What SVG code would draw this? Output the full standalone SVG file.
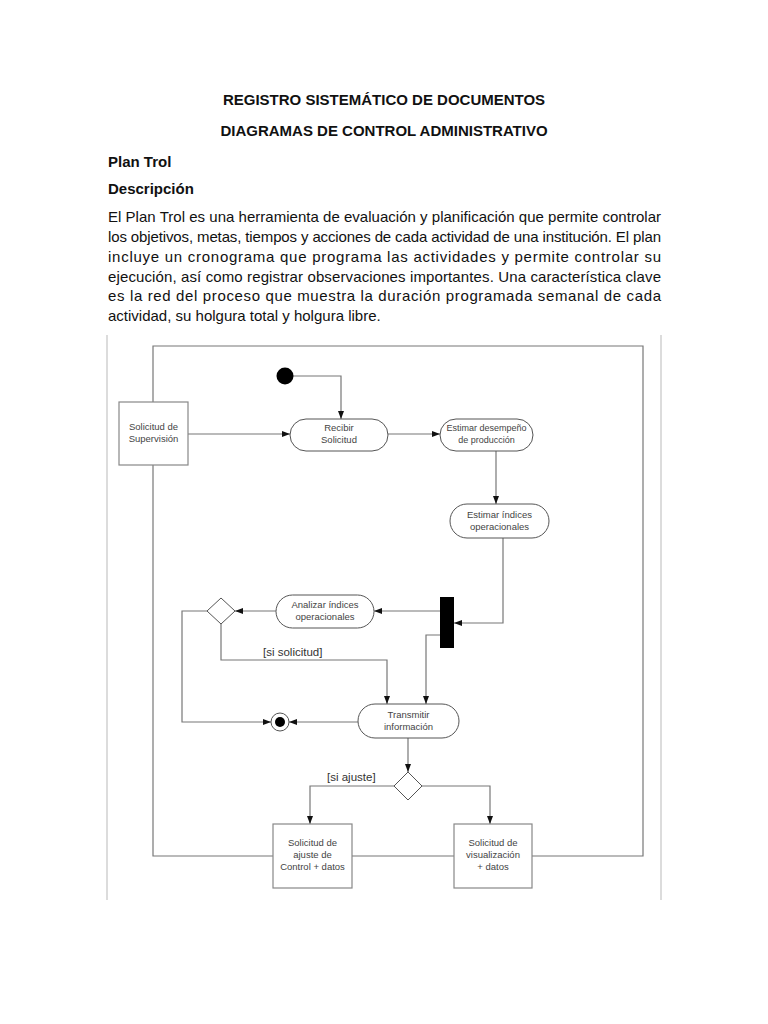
<svg xmlns="http://www.w3.org/2000/svg" width="768" height="1024" viewBox="0 0 768 1024">
<defs>
<marker id="arr" markerWidth="8" markerHeight="6" refX="8" refY="3" orient="auto" markerUnits="userSpaceOnUse"><path d="M0,0 L8,3 L0,6 z" fill="#111"/></marker>
<style>
.doc{font-family:"Liberation Sans",Arial,sans-serif;fill:#111;}
.h{font-size:15px;font-weight:bold;}
.p{font-size:15px;}
.n{font-family:"Liberation Sans",Arial,sans-serif;font-size:9.5px;fill:#444;text-anchor:middle;}
.lbl{font-family:"Liberation Sans",Arial,sans-serif;font-size:11.5px;fill:#333;}
.pill{fill:#fff;stroke:#555;stroke-width:1;}
.box{fill:#fff;stroke:#888;stroke-width:1.2;}
.c{fill:none;stroke:#777;stroke-width:1.2;}
.ca{fill:none;stroke:#777;stroke-width:1.2;marker-end:url(#arr);}
.frame{stroke:#d0d0d0;stroke-width:1.5;}
</style>
</defs>
<rect width="768" height="1024" fill="#fff"/>
<g id="header" class="doc">
<text class="h" x="384" y="105" text-anchor="middle">REGISTRO SISTEMÁTICO DE DOCUMENTOS</text>
<text class="h" x="384" y="136" text-anchor="middle">DIAGRAMAS DE CONTROL ADMINISTRATIVO</text>
<text class="h" x="108" y="167">Plan Trol</text>
<text class="h" x="108" y="194">Descripción</text>
<text class="p" x="108" y="222" textLength="553" lengthAdjust="spacing">El Plan Trol es una herramienta de evaluación y planificación que permite controlar</text>
<text class="p" x="108" y="242" textLength="553" lengthAdjust="spacing">los objetivos, metas, tiempos y acciones de cada actividad de una institución. El plan</text>
<text class="p" x="108" y="262" textLength="553" lengthAdjust="spacing">incluye un cronograma que programa las actividades y permite controlar su</text>
<text class="p" x="108" y="281.5" textLength="553" lengthAdjust="spacing">ejecución, así como registrar observaciones importantes. Una característica clave</text>
<text class="p" x="108" y="301" textLength="553" lengthAdjust="spacing">es la red del proceso que muestra la duración programada semanal de cada</text>
<text class="p" x="108" y="320.5">actividad, su holgura total y holgura libre.</text>
</g>
<g id="frame">
<line class="frame" x1="107" y1="335" x2="107" y2="900"/>
<line class="frame" x1="661" y1="335" x2="661" y2="900"/>
</g>
<g id="connectors">
<path class="c" d="M153,465 V856 H273"/>
<path class="c" d="M352,856 H454"/>
<path class="c" d="M532,856 H643 V346 H153 V402"/>
<path class="ca" d="M293,376 H341 V419"/>
<path class="ca" d="M188,434 H290"/>
<path class="ca" d="M388,434 H440"/>
<path class="ca" d="M496,451 V504"/>
<path class="ca" d="M503,538 V623 H454"/>
<path class="ca" d="M440,611 H374"/>
<path class="ca" d="M276,611 H235"/>
<path class="ca" d="M207,611 H182 V722 H271"/>
<path class="ca" d="M221,624 V660 H387 V704"/>
<path class="ca" d="M440,635 H426 V704"/>
<path class="ca" d="M358,722 H289"/>
<path class="ca" d="M408,738 V772"/>
<path class="ca" d="M394,786 H310 V824"/>
<path class="ca" d="M422,786 H490 V824"/>
<text class="lbl" x="263" y="656">[si solicitud]</text>
<text class="lbl" x="327" y="781">[si ajuste]</text>
</g>
<g id="start"><circle cx="285" cy="376" r="8.5" fill="#000"/></g>
<g id="sup"><rect class="box" x="119" y="402" width="69" height="63"/><text class="n" x="153.5" y="430">Solicitud de</text><text class="n" x="153.5" y="442">Supervisión</text></g>
<g id="recibir"><rect class="pill" x="290" y="419" width="98" height="32" rx="16"/><text class="n" x="339" y="431">Recibir</text><text class="n" x="339" y="443">Solicitud</text></g>
<g id="desemp"><rect class="pill" x="440" y="419" width="93" height="32" rx="16"/><text class="n" x="486.5" y="431" style="font-size:9px">Estimar desempeño</text><text class="n" x="486.5" y="443" style="font-size:9px">de producción</text></g>
<g id="indices"><rect class="pill" x="450" y="504" width="99" height="34" rx="17"/><text class="n" x="499.5" y="518">Estimar índices</text><text class="n" x="499.5" y="530">operacionales</text></g>
<g id="fork"><rect x="440" y="597" width="14" height="51" fill="#000"/></g>
<g id="analizar"><rect class="pill" x="276" y="595" width="98" height="33" rx="16.5"/><text class="n" x="325" y="608">Analizar índices</text><text class="n" x="325" y="620">operacionales</text></g>
<g id="dec1"><polygon points="221,598 235,611 221,624 207,611" fill="#fff" stroke="#555" stroke-width="1"/></g>
<g id="transmitir"><rect class="pill" x="358" y="704" width="101" height="34" rx="17"/><text class="n" x="408.5" y="718">Transmitir</text><text class="n" x="408.5" y="730">información</text></g>
<g id="end"><circle cx="280" cy="722" r="9" fill="#fff" stroke="#555" stroke-width="1"/><circle cx="280" cy="722" r="5" fill="#000"/></g>
<g id="dec2"><polygon points="408,772 422,786 408,800 394,786" fill="#fff" stroke="#555" stroke-width="1"/></g>
<g id="ajuste"><rect class="box" x="273" y="824" width="79" height="64"/><text class="n" x="312.5" y="846">Solicitud de</text><text class="n" x="312.5" y="858">ajuste de</text><text class="n" x="312.5" y="870">Control + datos</text></g>
<g id="visual"><rect class="box" x="454" y="824" width="78" height="64"/><text class="n" x="493" y="846">Solicitud de</text><text class="n" x="493" y="858">visualización</text><text class="n" x="493" y="870">+ datos</text></g>
</svg>
